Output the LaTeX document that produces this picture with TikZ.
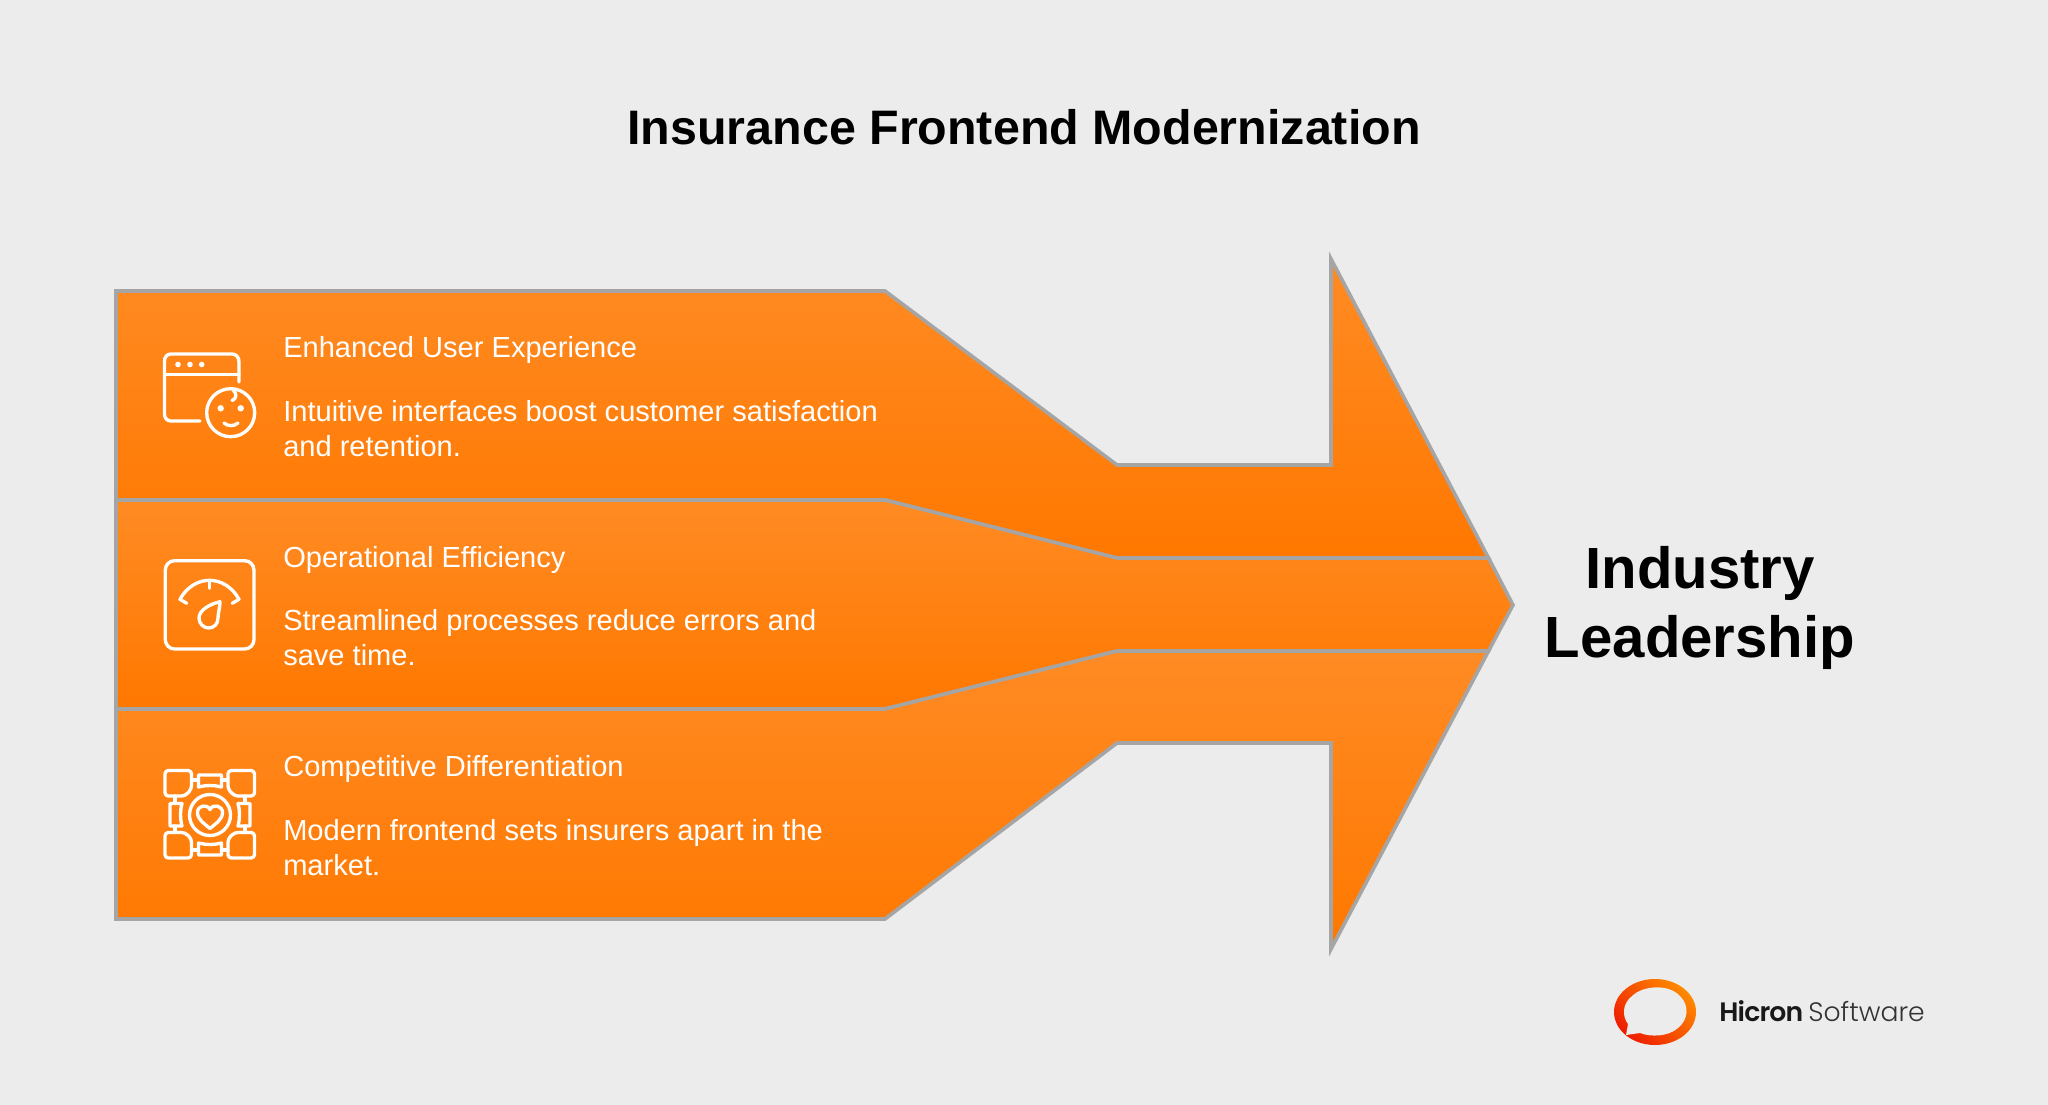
\documentclass[tikz,border=0pt]{standalone}
\usepackage{fontspec}
\setmainfont{Liberation Sans}
\newfontfamily\hicb[LetterSpace=-3]{Poppins SemiBold}
\newfontfamily\hicl{Poppins Light}
\definecolor{bg}{HTML}{ECECEC}
\definecolor{edge}{HTML}{A5A5A5}
\definecolor{ltop}{HTML}{FF8B24}
\definecolor{lbot}{HTML}{FF7800}
\definecolor{lgred}{HTML}{EE1C00}
\definecolor{lgor}{HTML}{FF8A00}
\tikzset{
  band/.style={draw=edge,line width=2.7pt,line join=miter,miter limit=10,top color=ltop,bottom color=lbot},
  ico/.style={draw=white,line width=2.5pt,line cap=round,line join=round},
  dotw/.style={fill=white,draw=none},
  head/.style={anchor=base west,text=white,inner sep=0pt,font=\fontsize{21.8}{26}\selectfont},
  body/.style={anchor=base west,text=white,inner sep=0pt,align=left,font=\fontsize{21.8}{26.2}\selectfont},
  titl/.style={anchor=base,inner sep=0pt,font=\fontsize{36.3}{42}\bfseries\selectfont},
  goal/.style={anchor=base,inner sep=0pt,font=\fontsize{43.6}{52}\bfseries\selectfont}
}
\begin{document}
\begin{tikzpicture}[x=0.75pt,y=-0.75pt]
\useasboundingbox (0,0) rectangle (2048,1105);
\fill[bg] (0,0) rectangle (2048,1105);
% bands
\path[band] (116,291) -- (885,291) -- (1117,465) -- (1331,465) -- (1331,259) -- (1488.5,558) -- (1117,558) -- (885,500) -- (116,500) -- cycle;
\path[band] (116,500) -- (885,500) -- (1117,558) -- (1488.5,558) -- (1513,605) -- (1488.5,651) -- (1117,651) -- (885,709) -- (116,709) -- cycle;
\path[band] (116,709) -- (885,709) -- (1117,651) -- (1488.5,651) -- (1331,949) -- (1331,743) -- (1117,743) -- (885,919) -- (116,919) -- cycle;
% texts
\node[titl] (title) at (1024,145) {Insurance Frontend Modernization};
\node[head] (h1) at (283,358) {Enhanced User Experience};
\node[body] (b1) at (283,456) {Intuitive interfaces boost customer satisfaction\\and retention.};
\node[head] (h2) at (283,567) {Operational Efficiency};
\node[body] (b2) at (283,665) {Streamlined processes reduce errors and\\save time.};
\node[head] (h3) at (283,776) {Competitive Differentiation};
\node[body] (b3) at (283,875) {Modern frontend sets insurers apart in the\\market.};
\node[goal] (g1) at (1700,588) {Industry};
\node[goal] (g2) at (1700,657) {Leadership};
% icon 1
\draw[ico] (239,382) -- (239,362) .. controls (239,357) and (236,354) .. (232,354) -- (171,354) .. controls (167,354) and (164.5,357) .. (164.5,361) -- (164.5,414) .. controls (164.5,418) and (167,421) .. (171,421) -- (200,421);
\draw[ico] (164.5,374.5) -- (239,374.5);
\fill[dotw] (178,364.5) circle[radius=2.8] (190,364.5) circle[radius=2.8] (201.7,364.5) circle[radius=2.8];
\draw[ico] (230.7,412.7) circle[radius=24];
\fill[dotw] (220.7,408.3) circle[radius=3.2] (240.7,408.3) circle[radius=3.2];
\draw[ico] (224,423) .. controls (228,426.5) and (234,426.5) .. (238,423);
\draw[ico] (233,390) .. controls (237,393) and (237,399) .. (232,400.5);
% icon 2
\draw[ico,rounded corners=7pt] (165.3,560.7) rectangle (254,649);
\draw[ico] (186.7,603.3) -- (180,599.3) .. controls (194,574) and (225,574) .. (239,599.3) -- (232.3,603.3);
\draw[ico] (209.3,582) -- (209.3,588.3);
\draw[ico] (220,601.7) .. controls (210,604) and (199,610) .. (199,618) .. controls (199,624) and (204,628) .. (208.5,628) .. controls (214,628) and (218,624) .. (218,618) .. controls (218,613) and (220,608) .. (220,601.7) -- cycle;
% icon 3
\draw[ico,rounded corners=2.5pt] (165,770.5) -- (191.5,770.5) -- (191.5,789) -- (185,796) -- (165,796) -- cycle;
\draw[ico,rounded corners=2.5pt] (254.5,770.5) -- (228,770.5) -- (228,789) -- (234.5,796) -- (254.5,796) -- cycle;
\draw[ico,rounded corners=2.5pt] (165,858) -- (191.5,858) -- (191.5,839) -- (185,832.5) -- (165,832.5) -- cycle;
\draw[ico,rounded corners=2.5pt] (254.5,858) -- (228,858) -- (228,839) -- (234.5,832.5) -- (254.5,832.5) -- cycle;
\draw[ico] (210,815) circle[radius=20.5];
\draw[ico] (210,828.5) .. controls (205,824) and (197.5,820) .. (197.5,812.5) .. controls (197.5,805.5) and (207,803.5) .. (210,809.5) .. controls (213,803.5) and (222.5,805.5) .. (222.5,812.5) .. controls (222.5,820) and (215,824) .. (210,828.5) -- cycle;
\draw[ico] (198.5,775) -- (221.5,775) -- (221.5,787) .. controls (214,785) and (206,785) .. (198.5,787) -- cycle;
\draw[ico] (198.5,855) -- (221.5,855) -- (221.5,843) .. controls (214,845) and (206,845) .. (198.5,843) -- cycle;
\draw[ico] (170,803.5) -- (170,826) -- (182,826) .. controls (180,818) and (180,811) .. (182,803.5) -- cycle;
\draw[ico] (250,803.5) -- (250,826) -- (238,826) .. controls (240,818) and (240,811) .. (238,803.5) -- cycle;
\draw[ico] (191.5,780) -- (198.5,780) (221.5,780) -- (228,780) (191.5,850) -- (198.5,850) (221.5,850) -- (228,850);
\draw[ico] (175,796) -- (175,803.5) (175,826) -- (175,832.5) (245,796) -- (245,803.5) (245,826) -- (245,832.5);
% logo
\shade[bottom color=lgred,top color=lgor,shading angle=-45] (1655,1012) ellipse[x radius=41,y radius=33];
\fill[bg] (1628,1024) .. controls (1622,1016) and (1622,1004) .. (1632,996) .. controls (1642,986) and (1668,983) .. (1680,996) .. controls (1690,1006) and (1688,1020) .. (1678,1028) .. controls (1668,1037) and (1650,1037) .. (1640,1033) -- (1626,1035) -- cycle;
\node[anchor=base west,inner sep=0pt,font=\fontsize{20}{24}\hicb\selectfont,text=black!90] (lg1) at (1719,1021) {Hicron};
\node[anchor=base west,inner sep=0pt,font=\fontsize{20}{24}\hicl\selectfont,text=black!80] (lg2) at (1808,1021) {Software};
\end{tikzpicture}
\end{document}
